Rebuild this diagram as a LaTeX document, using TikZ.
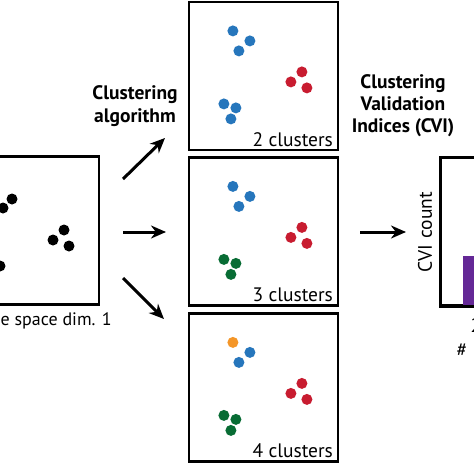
\documentclass[tikz,border=0pt]{standalone}
\usepackage{fontspec}
\setmainfont{PT Sans}
\usetikzlibrary{arrows.meta}
\definecolor{cblue}{RGB}{38,118,188}
\definecolor{cred}{RGB}{200,28,48}
\definecolor{cgreen}{RGB}{8,108,52}
\definecolor{corange}{RGB}{244,150,40}
\definecolor{cpurple}{RGB}{100,40,150}
\begin{document}
\begin{tikzpicture}[x=1pt,y=-1pt,
    panel/.style={draw,line width=2.2pt,minimum width=149pt,minimum height=148pt,inner sep=0pt},
    flow/.style={-{Stealth[length=15pt,width=13pt]},line width=3pt},
    title/.style={font=\bfseries\fontsize{19.5}{23}\selectfont,align=center},
    lbl/.style={font=\fontsize{19.5}{21}\selectfont,inner sep=0pt}]
  \useasboundingbox[fill=white] (0,0) rectangle (474,474);
  % input data
  \node[panel] (feat) at (24.5,230.5) {};
  \foreach \px/\py in {12/199,3/208,64/230,53/240,69/246,0/266}
    \fill (\px,\py) circle (5.5);
  \node[lbl,font=\fontsize{18}{20}\selectfont,anchor=base west] (featx) at (0.5,325) {e space dim. 1};
  % clustering results
  \node[title] (algo) at (135,106) {Clustering\\algorithm};
  \node[panel] (c2) at (263.5,76) {};
  \node[panel] (c3) at (263.5,231.5) {};
  \node[panel] (c4) at (263.5,387.5) {};
  \foreach \p/\k/\ta/\tb/\bt in {c2/2/cblue/cblue/cblue,c3/3/cblue/cblue/cgreen,c4/4/corange/cblue/cgreen} {
    \fill[\ta] ([shift={(45,30)}]\p.north west) circle (5.5);
    \fill[\tb] ([shift={(62,40)}]\p.north west) circle (5.5)
               ([shift={(51,50)}]\p.north west) circle (5.5);
    \fill[cred] ([shift={(114,71)}]\p.north west) circle (5.5)
                ([shift={(103,81)}]\p.north west) circle (5.5)
                ([shift={(119,87)}]\p.north west) circle (5.5);
    \fill[\bt] ([shift={(36,103)}]\p.north west) circle (5.5)
               ([shift={(48,107)}]\p.north west) circle (5.5)
               ([shift={(43,118)}]\p.north west) circle (5.5);
    \node[lbl,anchor=base east] (\p lbl) at ([shift={(-6,-5)}]\p.south east) {\k{} clusters};
  }
  \coordinate (fa) at (123,179);
  \coordinate (fb) at (123,232);
  \coordinate (fc) at (123,278);
  \coordinate (ta) at (165,138);
  \coordinate (tb) at (166,232);
  \coordinate (tc) at (164,319);
  \draw[flow] (fa) -- (ta);
  \draw[flow] (fb) -- (tb);
  \draw[flow] (fc) -- (tc);
  % validation
  \node[title,font=\bfseries\fontsize{19.5}{22}\selectfont] (cvi) at (403,106) {Clustering\\Validation\\Indices (CVI)};
  \coordinate (va) at (360,232);
  \coordinate (vb) at (406,232);
  \draw[flow] (va) -- (vb);
  \node[panel] (hist) at (515.5,231.5) {};
  \fill[cpurple] (463,256) rectangle (500,305);
  \draw[line width=2.2pt] (hist.north west) -- (hist.south west) -- (hist.south east);
  \node[lbl,rotate=90] (ylab) at (425,232) {CVI\,\,count};
  \node[lbl] (tick) at (476,326) {2};
  \node[lbl] (xlab) at (462,350) {\#};
\end{tikzpicture}
\end{document}
